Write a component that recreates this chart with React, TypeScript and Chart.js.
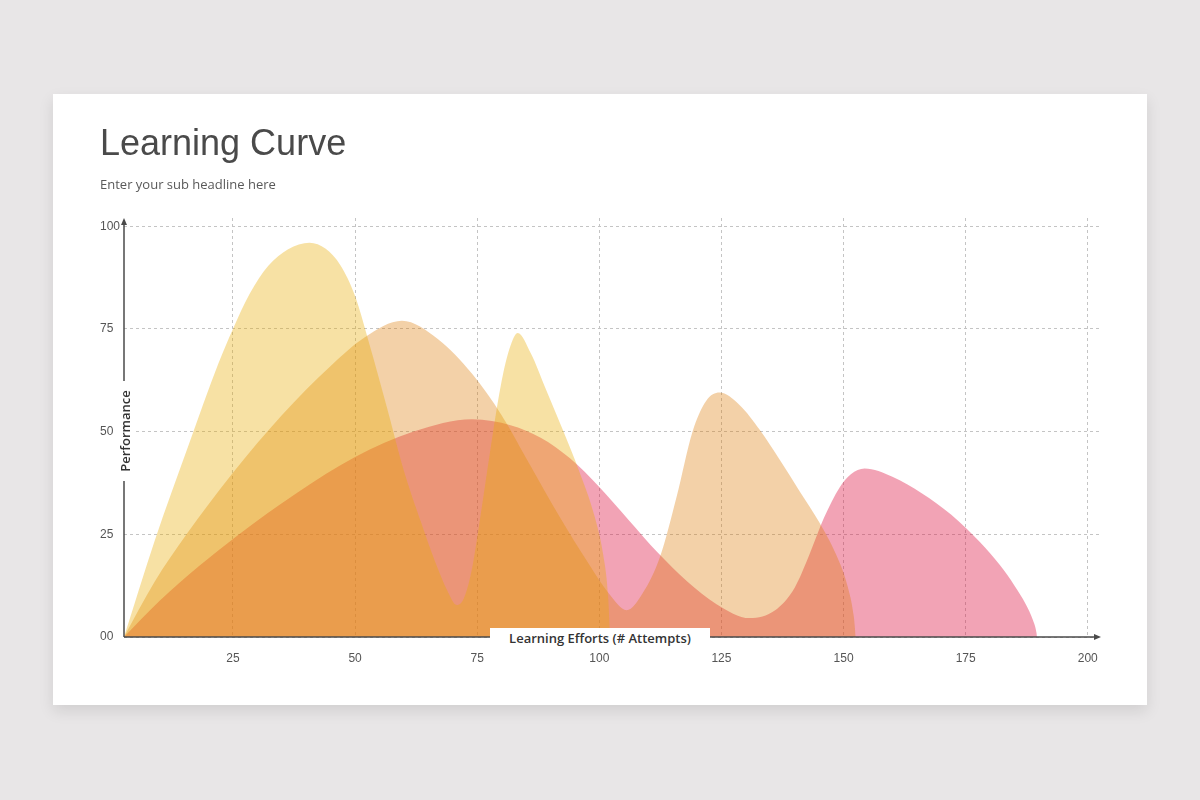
import React, { useEffect, useRef } from "react";
import { Chart, registerables } from "chart.js";

Chart.register(...registerables);

// ---- data ----
const xTickValues = [25, 50, 75, 100, 125, 150, 175, 200];
const yTickValues = [0, 25, 50, 75, 100];

const seriesNames = ["Stage A", "Stage B", "Stage C"];

const yellowX = [2.7, 9, 16, 22, 25, 28.4, 32.2, 36.3, 40.7, 44, 47, 50, 53, 56.5, 60, 63.5, 66.5, 69, 70.8, 72.3, 74, 76, 78.2, 80.3, 82, 83.3, 86, 89, 92.5, 96, 99, 100.8, 101.8, 102.2];
const yellowY = [0, 23.5, 47, 66.5, 75, 83.5, 90.3, 94.4, 96, 94.5, 90.5, 83, 71, 56, 40.5, 28, 18, 11, 7.8, 9.5, 17, 32, 49.5, 64, 71.5, 74, 69, 60.5, 50.5, 40, 29.5, 20, 10, 0];

const peachX = [2.7, 9, 15.5, 25, 35, 45, 52, 59.6, 67, 74, 80, 86, 92, 98, 102, 105.6, 108.9, 112.4, 115.8, 119.1, 121.9, 124.6, 128.7, 132.8, 137, 141, 145, 148.5, 150.8, 152.1, 152.5];
const peachY = [0, 13.5, 25, 40, 54, 66, 73, 77, 72.5, 64, 54, 41.5, 29, 17.5, 10.5, 6.5, 10.7, 19.4, 34, 50, 57.5, 59.5, 56.5, 50.5, 43, 35.5, 28, 20, 12.5, 5, 0];

const pinkX = [2.7, 10, 18, 26, 38, 50, 62, 74, 82, 88, 94, 100, 106, 112, 118, 124, 130.8, 136, 140, 143, 146, 149.2, 151.5, 154.3, 160, 166, 172, 178, 182, 185, 187.3, 188.8, 189.5, 189.6];
const pinkY = [0, 8.8, 17.2, 24.8, 35, 43.8, 50, 53, 51.5, 48.5, 43.5, 36.5, 28.5, 20.5, 13.5, 8, 4.6, 6.5, 12, 20, 29, 36.4, 39.6, 41, 39, 35, 29.8, 23, 17.5, 12.5, 8, 4, 1, 0];

const seriesColors = [
  "rgba(233,172,2,0.36)",
  "rgba(221,124,6,0.35)",
  "rgba(222,25,70,0.4)",
];

const toPoints = (xs: number[], ys: number[]) => xs.map((x, i) => ({ x, y: ys[i] }));

const axisPlugin = {
  id: "axisArrows",
  afterDatasetsDraw(chart: any) {
    const { ctx, chartArea } = chart;
    const { left, right, top, bottom } = chartArea;
    ctx.save();
    ctx.strokeStyle = "#4a4a4a";
    ctx.fillStyle = "#4a4a4a";
    ctx.lineWidth = 1.5;
    ctx.setLineDash([]);
    ctx.beginPath();
    ctx.moveTo(left, bottom);
    ctx.lineTo(left, top + 4);
    ctx.stroke();
    ctx.beginPath();
    ctx.moveTo(left, bottom);
    ctx.lineTo(right - 4, bottom);
    ctx.stroke();
    ctx.beginPath();
    ctx.moveTo(left, top);
    ctx.lineTo(left - 3, top + 7);
    ctx.lineTo(left + 3, top + 7);
    ctx.closePath();
    ctx.fill();
    ctx.beginPath();
    ctx.moveTo(right + 1, bottom);
    ctx.lineTo(right - 6, bottom - 3);
    ctx.lineTo(right - 6, bottom + 3);
    ctx.closePath();
    ctx.fill();
    ctx.restore();
  },
};

function LearningChart() {
  const ref = useRef<HTMLCanvasElement | null>(null);
  useEffect(() => {
    if (!ref.current) return;
    const gridColor = "#c4c4c4";
    const chart = new Chart(ref.current, {
      type: "line",
      data: {
        datasets: [
          { label: seriesNames[0], data: toPoints(yellowX, yellowY) },
          { label: seriesNames[1], data: toPoints(peachX, peachY) },
          { label: seriesNames[2], data: toPoints(pinkX, pinkY) },
        ].map((d, i) => ({
          ...d,
          backgroundColor: seriesColors[i],
          borderColor: seriesColors[i],
          borderWidth: 0,
          pointRadius: 0,
          fill: "origin",
          cubicInterpolationMode: "monotone" as const,
        })),
      },
      options: {
        animation: false,
        responsive: false,
        devicePixelRatio: 1,
        layout: { padding: { top: 124, right: 47, left: 47, bottom: 0 } },
        plugins: { legend: { display: false }, tooltip: { enabled: false } },
        scales: {
          x: {
            type: "linear",
            min: 2.7,
            max: 202.5,
            afterBuildTicks: (s: any) => {
              s.ticks = xTickValues.map((v) => ({ value: v }));
            },
            afterFit: (s: any) => {
              s.height = 68;
            },
            grid: { color: gridColor, lineWidth: 1, drawTicks: false },
            border: { display: false, dash: [3, 3] },
            ticks: {
              padding: 14,
              color: "#555",
              font: { family: "'Liberation Sans', Arial, sans-serif", size: 12 },
              maxRotation: 0,
            },
          },
          y: {
            type: "linear",
            min: 0,
            max: 102,
            afterBuildTicks: (s: any) => {
              s.ticks = yTickValues.map((v) => ({ value: v }));
            },
            afterFit: (s: any) => {
              s.width = 24;
            },
            grid: { color: gridColor, lineWidth: 1, drawTicks: false },
            border: { display: false, dash: [3, 3] },
            ticks: {
              padding: 6,
              crossAlign: "far",
              color: "#555",
              font: { family: "'Liberation Sans', Arial, sans-serif", size: 12 },
              callback: (v: any) => (Number(v) === 0 ? "00" : String(v)),
            },
          },
        },
      },
      plugins: [axisPlugin],
    });
    return () => chart.destroy();
  }, []);
  return <canvas ref={ref} width={1094} height={611} style={{ position: "absolute", left: 0, top: 0, width: 1094, height: 611 }} />;
}

export default function App() {
  return (
    <div style={{ position: "absolute", left: 0, top: 0, width: 1200, height: 800, background: "#e8e6e7", overflow: "hidden" }}>
      <div
        style={{
          position: "absolute",
          left: 53,
          top: 94,
          width: 1094,
          height: 611,
          background: "#ffffff",
          boxShadow: "0 6px 14px rgba(0,0,0,0.10)",
        }}
      >
        <LearningChart />
        <div
          style={{
            position: "absolute",
            left: 47,
            top: 30.5,
            fontFamily: "'Liberation Sans', Arial, sans-serif",
            fontSize: 36,
            lineHeight: "36px",
            color: "#4a4a4a",
            whiteSpace: "nowrap",
          }}
        >
          Learning Curve
        </div>
        <div
          style={{
            position: "absolute",
            left: 47,
            top: 83.5,
            fontFamily: "'Open Sans', sans-serif",
            fontSize: 13,
            lineHeight: "13px",
            color: "#595959",
            whiteSpace: "nowrap",
          }}
        >
          Enter your sub headline here
        </div>
        <div
          style={{
            position: "absolute",
            left: 72,
            top: 337,
            width: 100,
            height: 16,
            lineHeight: "16px",
            textAlign: "center",
            background: "#ffffff",
            transform: "translate(-50%, -50%) rotate(-90deg)",
            fontFamily: "'Open Sans', sans-serif",
            fontWeight: 600,
            fontSize: 13,
            color: "#333",
            whiteSpace: "nowrap",
          }}
        >
          Performance
        </div>
        <div
          style={{
            position: "absolute",
            left: 437,
            top: 534,
            width: 220,
            height: 20,
            lineHeight: "20px",
            textAlign: "center",
            background: "#ffffff",
            fontFamily: "'Open Sans', sans-serif",
            fontWeight: 600,
            fontSize: 13,
            color: "#333",
            whiteSpace: "nowrap",
          }}
        >
          Learning Efforts (# Attempts)
        </div>
      </div>
    </div>
  );
}
